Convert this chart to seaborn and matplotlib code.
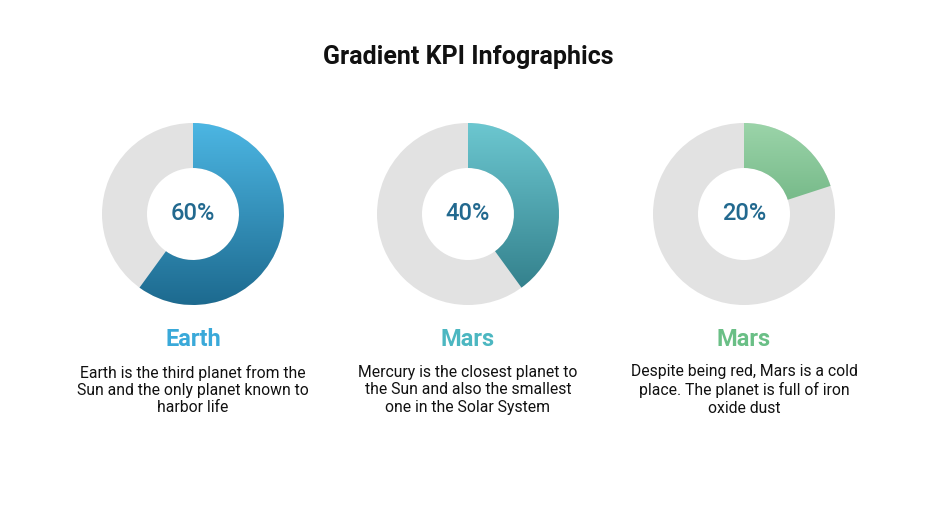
import numpy as np
import matplotlib
matplotlib.use("Agg")
import matplotlib.pyplot as plt
import seaborn as sns
from matplotlib.patches import Wedge
from matplotlib.colors import LinearSegmentedColormap

sns.set_theme(style="white")
plt.rcParams['font.family'] = ['Roboto', 'DejaVu Sans']

names = ["Earth", "Mars", "Mars"]
values = [60, 40, 20]
descs = ["Earth is the third planet from the\nSun and the only planet known to\nharbor life",
         "Mercury is the closest planet to\nthe Sun and also the smallest\none in the Solar System",
         "Despite being red, Mars is a cold\nplace. The planet is full of iron\noxide dust"]
grad_top = ["#4cb6e3", "#6cc7d0", "#9bd4a9"]
grad_bot = ["#1d6a8f", "#2e7a86", "#479760"]
name_colors = ["#3aa9d9", "#4cb7c1", "#6abf86"]

W, H = 937, 527
fig = plt.figure(figsize=(W/100, H/100), dpi=100)
ax = fig.add_axes([0, 0, 1, 1])
ax.set_xlim(0, W); ax.set_ylim(0, H); ax.axis("off")

centers_x = [193, 468, 744]
cy = H - 214
R, r = 91, 46
ax.text(W/2, H-57, "Gradient KPI Infographics", ha="center", va="center",
        fontsize=18, fontweight="bold", color="#111111")
for i, cx in enumerate(centers_x):
    ax.add_patch(Wedge((cx, cy), R, 0, 360, width=R-r, facecolor="#e2e2e2",
                       edgecolor="none", zorder=1))
    theta1 = 90 - 360*values[i]/100
    w = Wedge((cx, cy), R, theta1, 90, width=R-r, facecolor="none", edgecolor="none")
    ax.add_patch(w)
    cmap = LinearSegmentedColormap.from_list("g", [grad_bot[i], grad_top[i]])
    grad = np.linspace(0, 1, 256).reshape(-1, 1)
    im = ax.imshow(grad, cmap=cmap, origin="lower", aspect="auto",
                   extent=(cx-R, cx+R, cy-R, cy+R), zorder=2)
    im.set_clip_path(w)
    ax.text(cx, cy, f"{values[i]}%", ha="center", va="center", fontsize=17,
            fontweight="medium", color="#22698f", zorder=3)
    ax.text(cx, H-339, names[i], ha="center", va="center", fontsize=17,
            fontweight="bold", color=name_colors[i])
    ax.text(cx, H-390, descs[i], ha="center", va="center", fontsize=11.3,
            color="#111111", linespacing=1.2)
ax.set_xlim(0, W); ax.set_ylim(0, H)
fig.savefig("out.png", dpi=100)
